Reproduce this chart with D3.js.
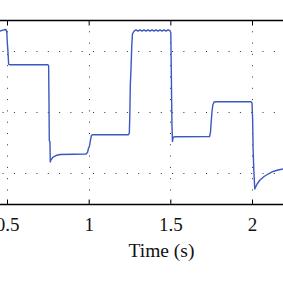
<!DOCTYPE html>
<html>
<head>
<meta charset="utf-8">
<script src="https://cdn.jsdelivr.net/npm/d3@7"></script>
<style>
	html, body { margin: 0; padding: 0; background: #fff; }
	svg { display: block; }
</style>
</head>
<body>
<div id="chart"></div>
<script>
// time axis ticks and signal
var xTicks = [0.5, 1, 1.5, 2];
var xTickLabels = ["0.5", "1", "1.5", "2"];
var yTicks = [0, 1, 2];

var time = [
	0.457, 0.482, 0.494, 0.499, 0.501, 0.503, 0.506, 0.508, 0.510, 0.515,
	0.751, 0.755, 0.757, 0.759, 0.763, 0.765, 0.769, 0.782, 0.800, 0.825,
	0.984, 0.993, 0.999, 1.005, 1.011, 1.017, 1.027,
	1.244, 1.249, 1.252, 1.255, 1.259, 1.264, 1.268, 1.278,
	1.290, 1.302, 1.314, 1.327, 1.339, 1.351, 1.363, 1.376, 1.388, 1.400,
	1.412, 1.425, 1.437, 1.449, 1.461, 1.474, 1.486, 1.498,
	1.503, 1.505, 1.508, 1.510, 1.513, 1.518, 1.529,
	1.740, 1.746, 1.751, 1.755, 1.760, 1.768, 1.780,
	1.994, 2.000, 2.004, 2.007, 2.011, 2.017, 2.031, 2.049, 2.074, 2.098,
	2.129, 2.159, 2.202
];
var signal = [
	2.32, 2.34, 2.345, 2.30, 2.17, 2.09, 1.98, 1.88, 1.78, 1.77,
	1.77, 1.75, 1.20, 0.54, 0.51, 0.185, 0.22, 0.266, 0.29, 0.307,
	0.315, 0.34, 0.41, 0.446, 0.54, 0.617, 0.63,
	0.63, 0.657, 0.95, 1.44, 1.685, 2.09, 2.27, 2.32,
	2.34, 2.32, 2.34, 2.32, 2.34, 2.32, 2.34, 2.32, 2.34, 2.32,
	2.34, 2.32, 2.34, 2.32, 2.34, 2.32, 2.34, 2.325,
	2.29, 1.85, 1.20, 0.79, 0.52, 0.59, 0.597,
	0.60, 0.674, 0.87, 1.0, 1.114, 1.163, 1.168,
	1.168, 1.147, 0.87, 0.38, 0.054, -0.255, -0.174, -0.109, -0.052, -0.011,
	0.03, 0.054, 0.079
];

var W = 283, H = 283;
var plotTop = 20, plotBottom = 204;

var svg = d3.select("#chart").append("svg")
	.attr("width", W)
	.attr("height", H);

// the axes box runs past both sides of the picture
var x = d3.scaleLinear().domain([0.5, 2]).range([7, 252]);
var y = d3.scaleLinear().domain([-0.5, 2.5]).range([plotBottom, plotTop]);

var font = "'Liberation Serif', 'Times New Roman', serif";

// dotted grid
svg.append("g").selectAll("line")
	.data(xTicks)
	.enter().append("line")
	.attr("x1", function(d) { return Math.round(x(d)) + 0.5; })
	.attr("x2", function(d) { return Math.round(x(d)) + 0.5; })
	.attr("y1", plotTop)
	.attr("y2", plotBottom)
	.attr("stroke", "#333")
	.attr("stroke-width", 1)
	.attr("stroke-dasharray", "1,10.3");

svg.append("g").selectAll("line")
	.data(yTicks)
	.enter().append("line")
	.attr("x1", -20)
	.attr("x2", W)
	.attr("y1", function(d) { return Math.round(y(d)) + 0.5; })
	.attr("y2", function(d) { return Math.round(y(d)) + 0.5; })
	.attr("stroke", "#333")
	.attr("stroke-width", 1)
	.attr("stroke-dasharray", "1,10.3");

// signal
var line = d3.line()
	.x(function(d, i) { return x(time[i]); })
	.y(function(d) { return y(d); });

svg.append("path")
	.datum(signal)
	.attr("d", line)
	.attr("fill", "none")
	.attr("stroke", "#3c58c2")
	.attr("stroke-width", 1.4)
	.attr("stroke-linejoin", "round");

// bottom axis, ticks pointing in
var xAxis = d3.axisBottom(x)
	.tickValues(xTicks)
	.tickSize(-5)
	.tickPadding(13)
	.tickFormat(function(d, i) { return xTickLabels[i]; });

var gx = svg.append("g")
	.attr("transform", "translate(0," + (plotBottom + 0.5) + ")")
	.call(xAxis);
gx.select(".domain").remove();
gx.selectAll(".tick line").attr("stroke", "#000");
gx.selectAll("text")
	.attr("font-family", font)
	.attr("font-size", 19)
	.attr("fill", "#111");
gx.append("line")
	.attr("x1", 0).attr("x2", W)
	.attr("stroke", "#000").attr("stroke-width", 1.3);

// top box edge with ticks
var xTop = d3.axisTop(x)
	.tickValues(xTicks)
	.tickSize(-5)
	.tickFormat("");
var gt = svg.append("g")
	.attr("transform", "translate(0," + (plotTop + 0.5) + ")")
	.call(xTop);
gt.select(".domain").remove();
gt.selectAll(".tick line").attr("stroke", "#000");
gt.append("line")
	.attr("x1", 0).attr("x2", W)
	.attr("stroke", "#000").attr("stroke-width", 1.3);

svg.append("text")
	.attr("x", 161.5)
	.attr("y", 257)
	.attr("text-anchor", "middle")
	.attr("font-family", font)
	.attr("font-size", 19.5)
	.attr("fill", "#111")
	.text("Time (s)");
</script>
</body>
</html>
